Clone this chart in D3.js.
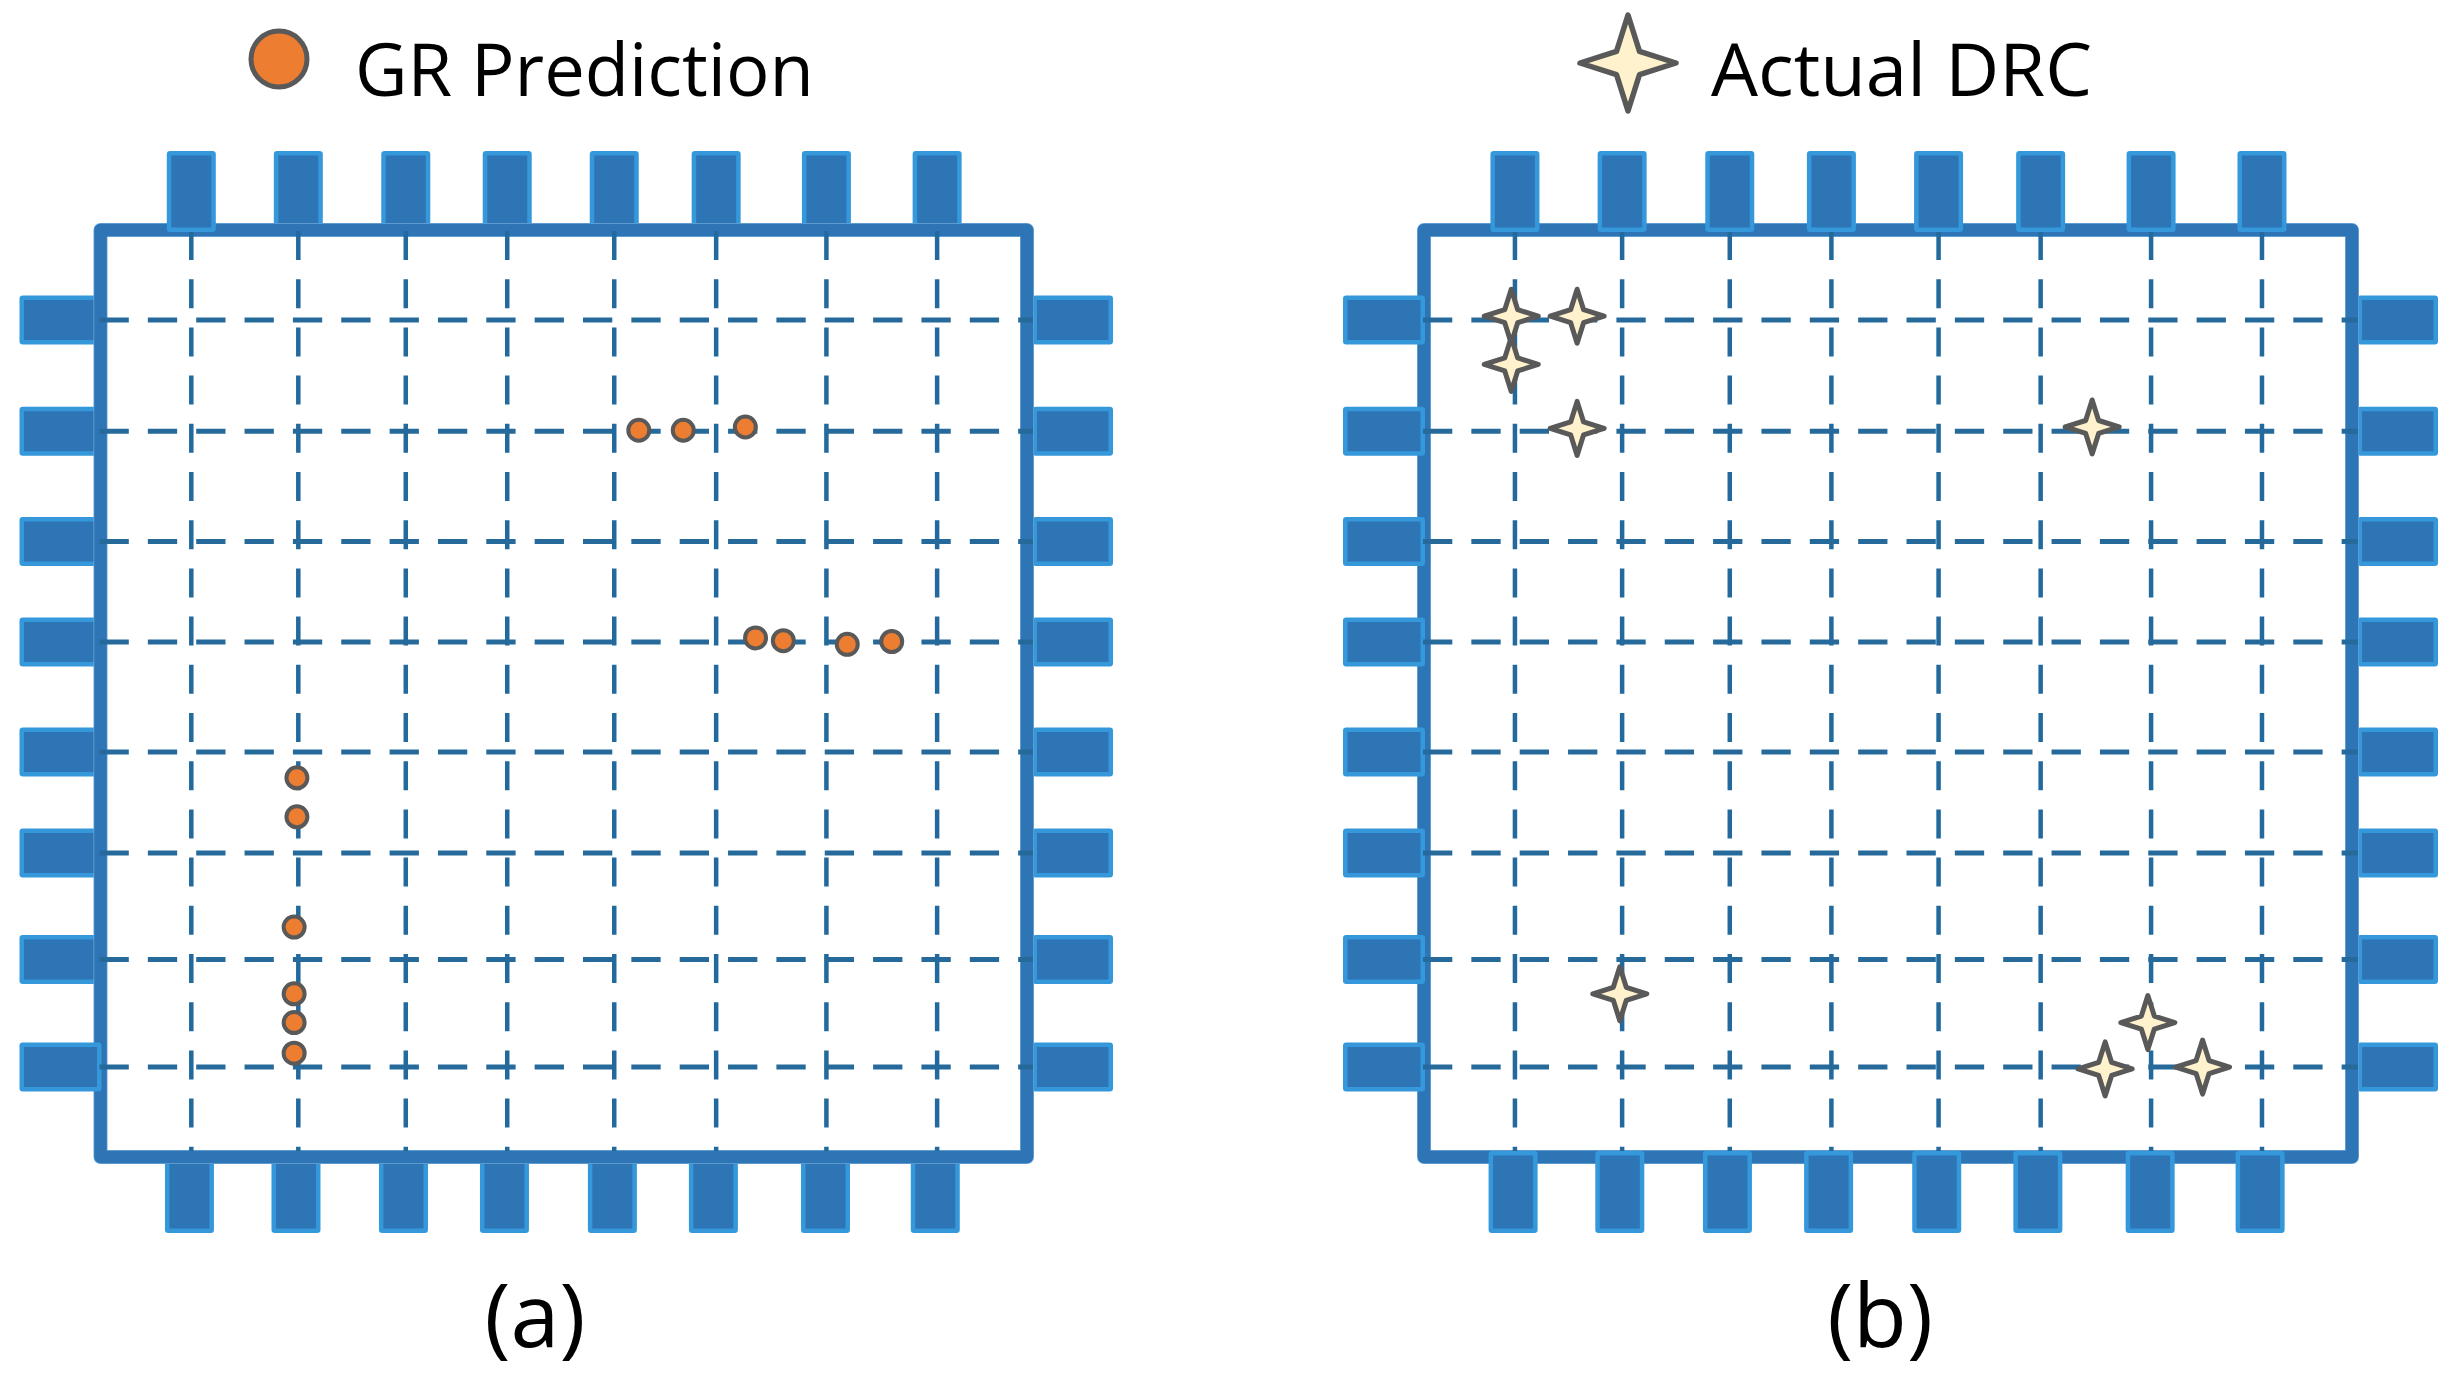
<!DOCTYPE html>
<html>
<head>
<meta charset="utf-8">
<script src="https://cdn.jsdelivr.net/npm/d3@7"></script>
<style>
  body { margin: 0; background: #fff; }
  text { font-family: "Open Sans", "Noto Sans", sans-serif; fill: #000; }
</style>
</head>
<body>
<div id="chart"></div>
<script>
// everything is in chip coordinates, 0-100 across the frame
const gridCols = [9.8, 21.35, 32.95, 43.9, 55.45, 66.45, 78.35, 90.3];
const gridRows = [9.7, 21.7, 33.6, 44.45, 56.3, 67.2, 78.7, 90.3];
const bottomPinCols = [9.6, 21.1, 32.7, 43.6, 55.25, 66.15, 78.25, 90.1];

const grX = [58.1, 62.9, 69.6, 70.7, 73.7, 80.6, 85.4, 21.2, 21.2, 20.9, 20.9, 20.9, 20.9];
const grY = [21.6, 21.6, 21.25, 44.0, 44.3, 44.7, 44.4, 59.1, 63.3, 75.2, 82.4, 85.5, 88.8];

const drcX = [9.4, 16.5, 9.4, 16.5, 72.0, 21.1, 78.0, 73.4, 83.9];
const drcY = [9.3, 9.3, 14.5, 21.4, 21.25, 82.4, 85.5, 90.5, 90.3];

const legendLabels = ["GR Prediction", "Actual DRC"];
const panelLabels = ["(a)", "(b)"];

const width = 2450;
const height = 1379;
const pinFill = "#2E75B6";
const pinEdge = "#3498DB";
const markerEdge = "#595959";

const svg = d3
  .select("#chart")
  .append("svg")
  .attr("width", width)
  .attr("height", height)
  .attr("viewBox", [0, 0, width, height]);

// 4 point star, size is the outer radius squared
const star4 = {
  draw(context, size) {
    const r = Math.sqrt(size);
    const k = r * 0.24;
    context.moveTo(0, -r);
    context.lineTo(k, -k);
    context.lineTo(r, 0);
    context.lineTo(k, k);
    context.lineTo(0, r);
    context.lineTo(-k, k);
    context.lineTo(-r, 0);
    context.lineTo(-k, -k);
    context.closePath();
  },
};

function drawPanel(left, right, allPinsOnTop) {
  const x = d3.scaleLinear().domain([0, 100]).range([left, right]);
  const y = d3.scaleLinear().domain([0, 100]).range([230, 1157]);
  const g = svg.append("g");

  // pin rects, the edge stroke adds 2.25 on each side
  const pinW = 44.5;
  const pins = [];
  gridCols.forEach((c, i) => {
    pins.push({ x: x(c) - pinW / 2, y: 153.25, w: pinW, h: 76.5, top: allPinsOnTop || i === 0 });
  });
  bottomPinCols.forEach((c) => {
    pins.push({ x: x(c) - pinW / 2, y: 1153.25, w: pinW, h: 77.5, top: allPinsOnTop });
  });
  gridRows.forEach((r, i) => {
    pins.push({ x: x(0) - 78.75, y: y(r) - pinW / 2, w: 77.5, h: pinW, top: allPinsOnTop || i === 7 });
    pins.push({ x: x(100) + 7.75, y: y(r) - pinW / 2, w: 76, h: pinW, top: false });
  });

  const drawPins = (list) =>
    g
      .append("g")
      .selectAll("rect")
      .data(list)
      .join("rect")
      .attr("x", (d) => d.x)
      .attr("y", (d) => d.y)
      .attr("width", (d) => d.w)
      .attr("height", (d) => d.h)
      .attr("rx", 1)
      .attr("fill", pinFill)
      .attr("stroke", pinEdge)
      .attr("stroke-width", 4.5);

  drawPins(pins.filter((d) => !d.top));

  g.append("rect")
    .attr("x", x(0))
    .attr("y", y(0))
    .attr("width", x(100) - x(0))
    .attr("height", y(100) - y(0))
    .attr("fill", "#fff")
    .attr("stroke", "#6FA8D8")
    .attr("stroke-width", 14)
    .attr("stroke-linejoin", "round");
  g.append("rect")
    .attr("x", x(0))
    .attr("y", y(0))
    .attr("width", x(100) - x(0))
    .attr("height", y(100) - y(0))
    .attr("fill", "none")
    .attr("stroke", pinFill)
    .attr("stroke-width", 12.5)
    .attr("stroke-linejoin", "round");

  g.append("g")
    .selectAll("line")
    .data(gridCols)
    .join("line")
    .attr("x1", (d) => x(d))
    .attr("x2", (d) => x(d))
    .attr("y1", 231)
    .attr("y2", 1151)
    .attr("stroke", "#22699E")
    .attr("stroke-width", 4.5)
    .attr("stroke-dasharray", "29 19.2");

  drawPins(pins.filter((d) => d.top));

  g.append("g")
    .selectAll("line")
    .data(gridRows)
    .join("line")
    .attr("x1", x(0) - 1)
    .attr("x2", x(100) + 6)
    .attr("y1", (d) => y(d))
    .attr("y2", (d) => y(d))
    .attr("stroke", "#266A9B")
    .attr("stroke-width", 5)
    .attr("stroke-dasharray", "29.3 19.05");

  return { x, y, g };
}

const panelA = drawPanel(100.5, 1027, false);
const panelB = drawPanel(1424, 2352, true);

panelA.g
  .append("g")
  .selectAll("circle")
  .data(d3.range(grX.length))
  .join("circle")
  .attr("cx", (i) => panelA.x(grX[i]))
  .attr("cy", (i) => panelA.y(grY[i]))
  .attr("r", 10.5)
  .attr("fill", "#ED7D31")
  .attr("stroke", markerEdge)
  .attr("stroke-width", 4);

panelB.g
  .append("g")
  .selectAll("path")
  .data(d3.range(drcX.length))
  .join("path")
  .attr("transform", (i) => `translate(${panelB.x(drcX[i])},${panelB.y(drcY[i])})`)
  .attr("d", d3.symbol().type(star4).size(27 * 27))
  .attr("fill", "#FFF2CC")
  .attr("stroke", markerEdge)
  .attr("stroke-width", 5)
  .attr("stroke-linejoin", "round");

// legend
svg
  .append("circle")
  .attr("cx", 279)
  .attr("cy", 59)
  .attr("r", 28)
  .attr("fill", "#ED7D31")
  .attr("stroke", markerEdge)
  .attr("stroke-width", 5);
svg
  .append("path")
  .attr("transform", "translate(1628,63)")
  .attr("d", d3.symbol().type(star4).size(48 * 48))
  .attr("fill", "#FFF2CC")
  .attr("stroke", markerEdge)
  .attr("stroke-width", 5.5)
  .attr("stroke-linejoin", "round");

svg
  .selectAll("text.legend")
  .data(legendLabels)
  .join("text")
  .attr("class", "legend")
  .attr("x", (d, i) => [355, 1711][i])
  .attr("y", 96)
  .attr("font-size", 74)
  .attr("textLength", (d, i) => [459, 381][i])
  .attr("lengthAdjust", "spacingAndGlyphs")
  .text((d) => d);

svg
  .selectAll("text.panel")
  .data(panelLabels)
  .join("text")
  .attr("class", "panel")
  .attr("x", (d, i) => [535, 1880][i])
  .attr("y", 1347)
  .attr("text-anchor", "middle")
  .attr("font-size", 88)
  .text((d) => d);
</script>
</body>
</html>
